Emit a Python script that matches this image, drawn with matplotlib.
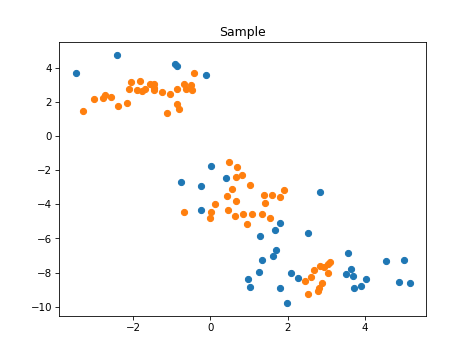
import matplotlib
matplotlib.use("Agg")
import matplotlib.pyplot as plt

# class 0 (blue)
x0 = [-2.41, -3.48, -0.91, -0.855, -0.12,
      -0.77, 0.01, -0.23, 0.40, -0.23, 2.84, 1.80, 1.68, 1.30, 2.54,
      1.71, 1.62, 1.35, 1.26, 0.97, 1.02, 1.81, 1.99, 2.09, 2.26,
      3.56, 3.65, 3.51, 3.70, 3.73, 3.91, 4.02, 4.56, 5.02, 4.89, 5.16]
y0 = [4.75, 3.66, 4.19, 4.09, 3.58,
      -2.72, -1.78, -2.93, -2.46, -4.36, -3.28, -5.10, -5.49, -5.88, -5.67,
      -6.70, -7.04, -7.29, -7.94, -8.36, -8.82, -8.93, -9.81, -8.01, -8.29,
      -6.84, -7.80, -8.09, -8.19, -8.89, -8.76, -8.40, -7.33, -7.29, -8.58, -8.62]

# class 1 (orange)
x1 = [-3.30, -3.01, -2.78, -2.72, -2.56, -2.38, -2.15, -2.04, -2.10, -1.91,
      -1.81, -1.77, -1.70, -1.55, -1.45, -1.47, -1.47, -1.25, -1.04, -1.11,
      -0.87, -0.81, -0.86, -0.67, -0.64, -0.50, -0.48, -0.42,
      0.49, 0.69, 0.66, 0.82, 1.04, 0.55, 0.43, 0.66, 0.12, -0.68, 0.03,
      -0.01, 0.47, 0.63, 0.84, 1.09, 1.34, 1.55, 0.96, 1.39, 1.60, 1.80,
      1.92, 1.41,
      2.46, 2.61, 2.69, 2.83, 2.94, 3.09, 3.05, 3.04, 2.89, 2.81, 2.79, 2.54]
y1 = [1.45, 2.17, 2.23, 2.37, 2.27, 1.74, 1.94, 3.17, 2.74, 2.72,
      3.23, 2.62, 2.74, 3.05, 3.05, 2.78, 2.68, 2.56, 2.46, 1.33,
      1.86, 1.58, 2.74, 3.05, 2.74, 2.97, 2.70, 3.70,
      -1.50, -1.84, -2.38, -2.29, -2.85, -3.09, -3.50, -3.83, -4.01, -4.48, -4.44,
      -4.81, -4.36, -4.67, -4.57, -4.57, -4.57, -4.81, -5.18, -3.44, -3.44, -3.60,
      -3.18, -3.91,
      -8.50, -8.27, -7.82, -7.64, -7.68, -7.39, -7.49, -8.05, -8.60, -8.89, -9.09, -9.24]

fig, ax = plt.subplots(figsize=(6.4, 4.8), dpi=74)
ax.scatter(x0, y0)
ax.scatter(x1, y1)
ax.set_title("Sample")
fig.savefig("out.png")
